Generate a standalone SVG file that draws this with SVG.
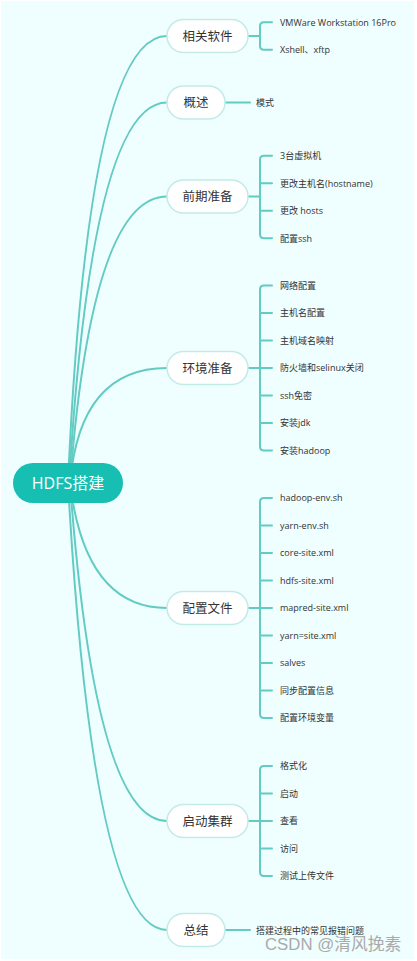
<svg xmlns="http://www.w3.org/2000/svg" width="417" height="961" viewBox="0 0 417 961">
<style>
.bg{fill:#effefe}
.lnk{fill:none;stroke:#62cbc4;stroke-width:2;stroke-linecap:round}
.br{fill:#ffffff;stroke:#c2ebe7;stroke-width:1.5}
.bt{font-family:"Open Sans","Noto Sans CJK SC",sans-serif;font-size:12.5px;fill:#333333;text-anchor:middle}
.lf{font-family:"Open Sans","Noto Sans CJK SC",sans-serif;font-size:9px;fill:#333333}
.rt{fill:#17bfb2}
.rtt{font-family:"Open Sans","Noto Sans CJK SC",sans-serif;font-size:16px;fill:#ffffff;text-anchor:middle}
.wm{font-family:"Liberation Sans","Noto Sans CJK SC",sans-serif;font-size:16.8px;fill:#aaaaaa}
</style>
<rect x="0" y="0" width="417" height="961" fill="#ffffff"/>
<rect class="bg" x="1" y="1" width="413" height="958"/>
<g id="connectors">
<path class="lnk" d="M68 483 Q88 36 167 36"/>
<path class="lnk" d="M69 483 Q92 102.5 167 102.5"/>
<path class="lnk" d="M70 483 Q92 196.5 167 196.5"/>
<path class="lnk" d="M70 483 Q80 368 167 368"/>
<path class="lnk" d="M70 483 Q85 608 167 608"/>
<path class="lnk" d="M70 483 Q95 821 167 821"/>
<path class="lnk" d="M68 483 Q93 930 167 930"/>
<path class="lnk" d="M248 36 H260 M272 22.25 H264 Q260 22.25 260 26.25 V45.75 Q260 49.75 264 49.75 H272"/>
<path class="lnk" d="M225 102.5 H250"/>
<path class="lnk" d="M248 196.5 H260 M272 155.75 H264 Q260 155.75 260 159.75 V234.25 Q260 238.25 264 238.25 H272 M260 183.25 H272 M260 210.75 H272"/>
<path class="lnk" d="M248 368 H260 M272 285.5 H264 Q260 285.5 260 289.5 V446.5 Q260 450.5 264 450.5 H272 M260 313 H272 M260 340.5 H272 M260 368 H272 M260 395.5 H272 M260 423 H272"/>
<path class="lnk" d="M248 608 H260 M272 498 H264 Q260 498 260 502 V714 Q260 718 264 718 H272 M260 525.5 H272 M260 553 H272 M260 580.5 H272 M260 608 H272 M260 635.5 H272 M260 663 H272 M260 690.5 H272"/>
<path class="lnk" d="M248 821 H260 M272 766 H264 Q260 766 260 770 V872 Q260 876 264 876 H272 M260 793.5 H272 M260 821 H272 M260 848.5 H272"/>
<path class="lnk" d="M225 930 H250"/>
</g>
<g id="root">
<rect class="rt" x="13" y="463" width="110" height="40" rx="20"/>
<text class="rtt" x="68" y="489">HDFS搭建</text>
</g>
<g id="n1">
<rect class="br" x="167" y="19.5" width="81" height="33" rx="16.5"/>
<text class="bt" x="207.5" y="40.5">相关软件</text>
<text class="lf" x="280" y="25.5">VMWare Workstation 16Pro</text>
<text class="lf" x="280" y="53">Xshell、xftp</text>
</g>
<g id="n2">
<rect class="br" x="167" y="86" width="58" height="33" rx="16.5"/>
<text class="bt" x="196" y="107">概述</text>
<text class="lf" x="256" y="106">模式</text>
</g>
<g id="n3">
<rect class="br" x="167" y="180" width="81" height="33" rx="16.5"/>
<text class="bt" x="207.5" y="201">前期准备</text>
<text class="lf" x="280" y="159">3台虚拟机</text>
<text class="lf" x="280" y="186.5">更改主机名(hostname)</text>
<text class="lf" x="280" y="214">更改 hosts</text>
<text class="lf" x="280" y="241.5">配置ssh</text>
</g>
<g id="n4">
<rect class="br" x="167" y="351.5" width="81" height="33" rx="16.5"/>
<text class="bt" x="207.5" y="372.5">环境准备</text>
<text class="lf" x="280" y="288.5">网络配置</text>
<text class="lf" x="280" y="316">主机名配置</text>
<text class="lf" x="280" y="343.5">主机域名映射</text>
<text class="lf" x="280" y="371">防火墙和selinux关闭</text>
<text class="lf" x="280" y="398.5">ssh免密</text>
<text class="lf" x="280" y="426">安装jdk</text>
<text class="lf" x="280" y="453.5">安装hadoop</text>
</g>
<g id="n5">
<rect class="br" x="167" y="591.5" width="81" height="33" rx="16.5"/>
<text class="bt" x="207.5" y="612.5">配置文件</text>
<text class="lf" x="280" y="501">hadoop-env.sh</text>
<text class="lf" x="280" y="528.5">yarn-env.sh</text>
<text class="lf" x="280" y="556">core-site.xml</text>
<text class="lf" x="280" y="583.5">hdfs-site.xml</text>
<text class="lf" x="280" y="611">mapred-site.xml</text>
<text class="lf" x="280" y="638.5">yarn=site.xml</text>
<text class="lf" x="280" y="666">salves</text>
<text class="lf" x="280" y="693.5">同步配置信息</text>
<text class="lf" x="280" y="721">配置环境变量</text>
</g>
<g id="n6">
<rect class="br" x="167" y="804.5" width="81" height="33" rx="16.5"/>
<text class="bt" x="207.5" y="825.5">启动集群</text>
<text class="lf" x="280" y="769">格式化</text>
<text class="lf" x="280" y="796.5">启动</text>
<text class="lf" x="280" y="824">查看</text>
<text class="lf" x="280" y="851.5">访问</text>
<text class="lf" x="280" y="879">测试上传文件</text>
</g>
<g id="n7">
<rect class="br" x="167" y="913.5" width="58" height="33" rx="16.5"/>
<text class="bt" x="196" y="934.5">总结</text>
<text class="lf" x="256" y="933.5">搭建过程中的常见报错问题</text>
</g>
<text class="wm" x="265" y="950">CSDN @清风挽素</text>
</svg>
